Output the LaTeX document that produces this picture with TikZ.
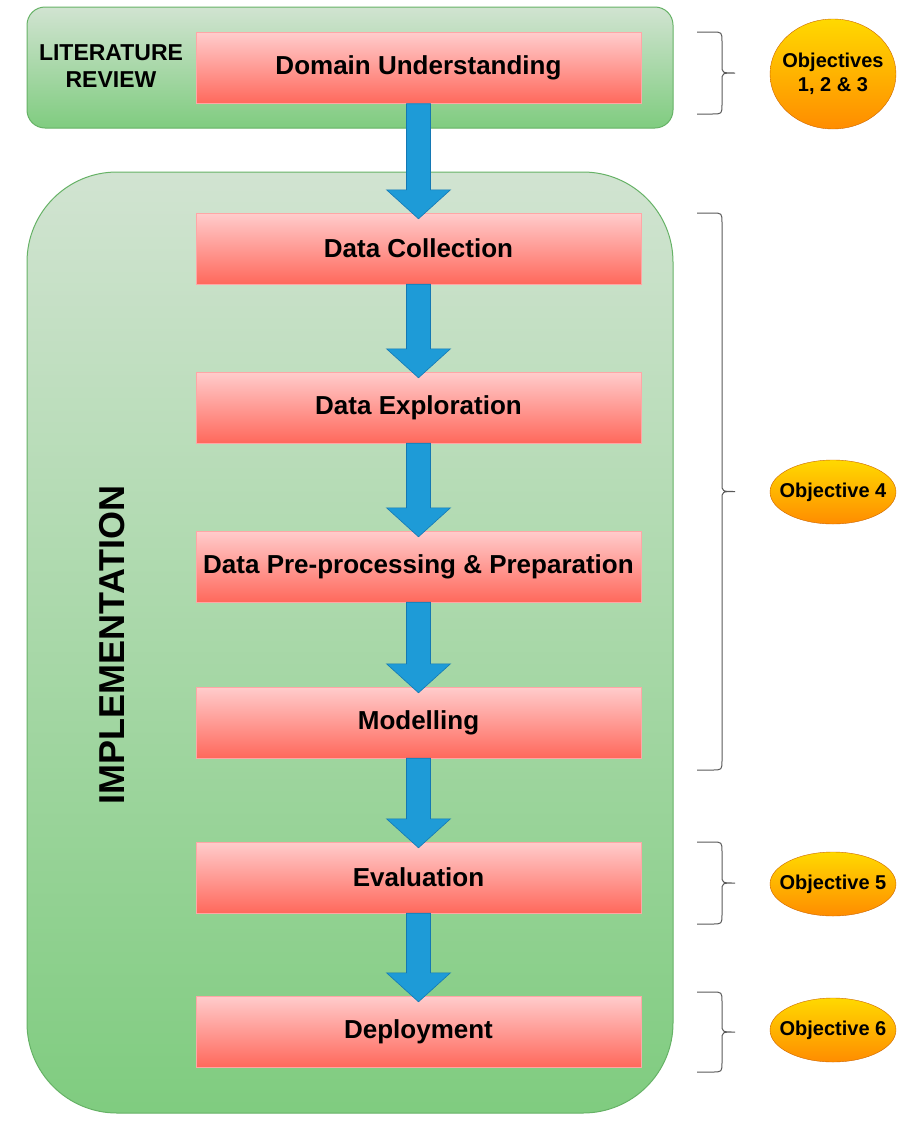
\documentclass[tikz,border=0pt]{standalone}
\usepackage{fontspec}
\setmainfont{Liberation Sans}
\usetikzlibrary{calc,shapes.geometric}
\definecolor{flow}{RGB}{30,155,215}
\definecolor{flowedge}{RGB}{20,120,180}
\begin{document}
\begin{tikzpicture}[x=1pt,y=-1pt,
  stage/.style={draw=red!35!white,top color=red!20!white,bottom color=red!60!white!90!orange,
    minimum width=445pt,minimum height=71pt,font=\bfseries\fontsize{26}{30}\selectfont},
  phase/.style={draw=green!50!black!60,rounded corners=#1,top color=green!40!black!20!white!90,
    bottom color=green!60!black!50!white, line width=1pt},
  goal/.style={ellipse,draw=orange!80!black,top color=yellow!70!orange,bottom color=orange!90!yellow,
    minimum width=126pt,font=\bfseries\fontsize{20}{24}\selectfont,align=center,
    inner xsep=-11pt,inner ysep=0pt},
  brace/.style={draw=gray!70!black,line width=1pt}]
\useasboundingbox (0,0) rectangle (914,1125);
% phases
\draw[phase=18pt] (27,7) rectangle (673,128);
\draw[phase=90pt] (27,172) rectangle (673,1113);
\node[font=\bfseries\fontsize{23}{27}\selectfont,align=center] (lit) at (111,66) {LITERATURE\\REVIEW};
\node[font=\bfseries\fontsize{36}{40}\selectfont,rotate=90] (impl) at (112,645) {IMPLEMENTATION};
% stages
\node[stage] (s0) at (418.5,68) {Domain Understanding};
\node[stage] (s1) at (418.5,248.5) {Data Collection};
\node[stage] (s2) at (418.5,407.5) {Data Exploration};
\node[stage] (s3) at (418.5,566.5) {Data Pre-processing \& Preparation};
\node[stage] (s4) at (418.5,722.5) {Modelling};
\node[stage] (s5) at (418.5,877.5) {Evaluation};
\node[stage] (s6) at (418.5,1031.5) {Deployment};
% block arrows
\foreach \a/\b in {s0/s1,s1/s2,s2/s3,s3/s4,s4/s5,s5/s6}{
  \fill[flow,draw=flowedge,line width=0.6pt]
    let \p1=(\a.south), \p2=(\b.north) in
    (\x1-12,\y1) -- (\x1+12,\y1) -- (\x1+12,\y2+23) -- (\x1+32,\y2+23) -- (\x1,\y2-6)
    -- (\x1-32,\y2+23) -- (\x1-12,\y2+23) -- cycle;}
% objectives
\node[goal,minimum height=110pt] (o1) at (833,74) {Objectives\\1, 2 \& 3};
\node[goal,minimum height=64pt] (o4) at (833,492) {Objective 4};
\node[goal,minimum height=64pt] (o5) at (833,884) {Objective 5};
\node[goal,minimum height=64pt] (o6) at (833,1030) {Objective 6};
% braces
\foreach \t/\b in {32/114,213/770,842/924,992/1072}{
  \pgfmathsetmacro\m{(\t+\b)/2}
  \draw[brace] (697,\t) -- (712,\t) .. controls (722,\t) .. (722,\t+10) -- (722,\m-8)
    .. controls (722,\m) .. (735,\m) .. controls (722,\m) .. (722,\m+8) -- (722,\b-10)
    .. controls (722,\b) .. (712,\b) -- (697,\b);}
\end{tikzpicture}
\end{document}
